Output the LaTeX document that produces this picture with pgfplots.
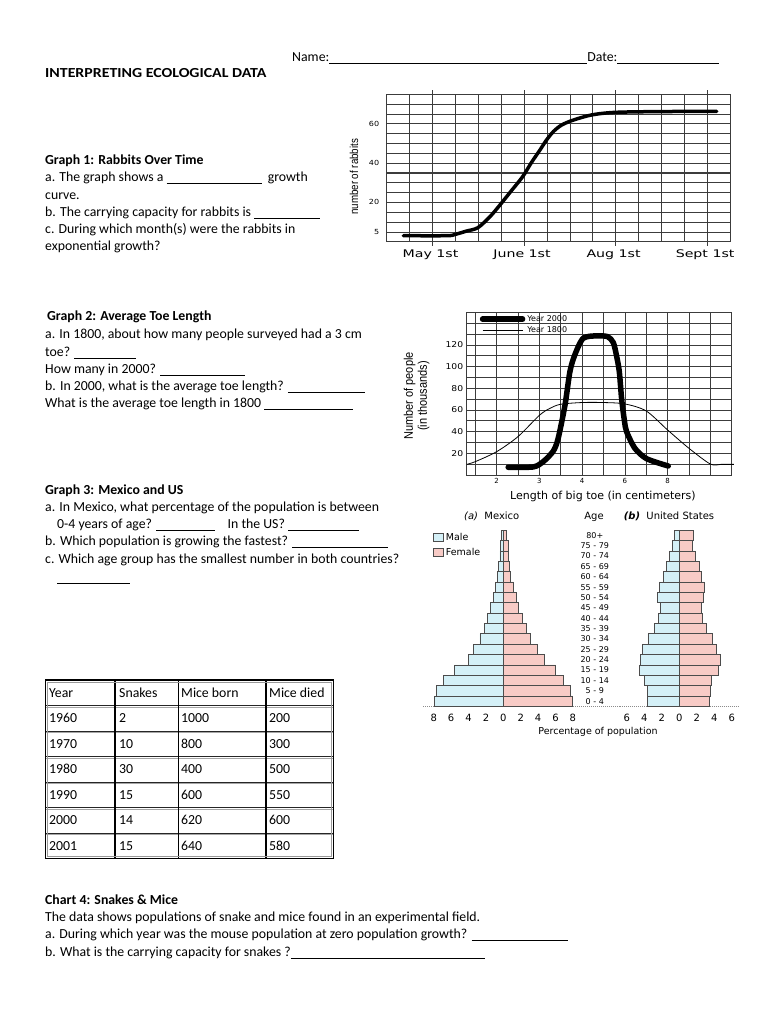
\documentclass[border=0pt]{standalone}
\usepackage{pgfplots}
\pgfplotsset{compat=1.18}
\usepackage{fontspec}
\setmainfont{Carlito}
\newfontfamily\vfont{DejaVu Sans}
\newfontfamily\afont{Liberation Sans}
\definecolor{malec}{RGB}{212,240,247}
\definecolor{femc}{RGB}{248,203,198}
\definecolor{gridc}{RGB}{60,60,60}
\newcommand{\bl}[1]{\rule[-2bp]{#1bp}{0.7bp}}
\newcommand{\tf}{\fontsize{13.8bp}{17bp}\selectfont}
\newcommand{\sx}[1]{\scalebox{1.15}[1]{#1}}
\begin{document}
\begin{tikzpicture}[x=1bp,y=1bp]
\path[fill=white,use as bounding box] (0,0) rectangle (768,1024);
\tikzset{txt/.style={anchor=base west, inner sep=0, font=\tf}}
% ---------- header ----------
\node[txt] at (292,1024-62) {Name:\bl{258}Date:\bl{102}};
\node[txt] at (45,1024-78) {\scalebox{1.15}[1]{\textbf{INTERPRETING ECOLOGICAL DATA}}};
% ---------- graph 1 text ----------
\node[txt] at (45,1024-165) {\textbf{Graph 1: Rabbits Over Time}};
\node[txt] at (45,1024-182) {a. The graph shows a \bl{95}\ \ growth};
\node[txt] at (45,1024-200) {curve.};
\node[txt] at (45,1024-217) {b. The carrying capacity for rabbits is \bl{66}};
\node[txt] at (45,1024-234) {c. During which month(s) were the rabbits in};
\node[txt] at (45,1024-251) {exponential growth?};
% ---------- graph 2 text ----------
\node[txt] at (47,1024-321) {\textbf{Graph 2: Average Toe Length}};
\node[txt] at (45,1024-339) {a. In 1800, about how many people surveyed had a 3 cm};
\node[txt] at (45,1024-357) {toe? \bl{62}};
\node[txt] at (45,1024-374) {How many in 2000? \bl{85}};
\node[txt] at (45,1024-391) {b. In 2000, what is the average toe length? \bl{77}};
\node[txt] at (45,1024-408) {What is the average toe length in 1800 \bl{89}};
% ---------- graph 3 text ----------
\node[txt] at (45,1024-495) {\textbf{Graph 3: Mexico and US}};
\node[txt] at (45,1024-512) {a. In Mexico, what percentage of the population is between};
\node[txt] at (57,1024-529) {0-4 years of age? \bl{59}\ \ \ \ In the US? \bl{71}};
\node[txt] at (45,1024-546) {b. Which population is growing the fastest? \bl{96}};
\node[txt] at (45,1024-564) {c. Which age group has the smallest number in both countries?};
\node[txt] at (57,1024-582) {\bl{73}};
% ---------- chart 4 text ----------
\node[txt] at (45,1024-905) {\textbf{Chart 4: Snakes \& Mice}};
\node[txt] at (45,1024-922) {The data shows populations of snake and mice found in an experimental field.};
\node[txt] at (45,1024-939) {a. During which year was the mouse population at zero population growth? \bl{96}};
\node[txt] at (45,1024-957) {b. What is the carrying capacity for snakes ?\bl{194}};
% ---------- table ----------
\foreach \yy in {705.5,731,756.5,782,807.5,833} {
  \draw[black!85, line width=0.6bp] (45.7,1024-\yy) -- (333.3,1024-\yy);
  \draw[black!35, line width=0.6bp] (45.7,1024-\yy-1.4) -- (333.3,1024-\yy-1.4);
}
\foreach \xx in {115,178.3,266} {
  \draw[black, line width=1.2bp] (\xx,1024-680) -- (\xx,1024-858.3);
}
\draw[black, line width=1.2bp] (45.7,1024-680) rectangle (333.3,1024-858.3);
\draw[black!40, line width=0.6bp] (47.7,1024-682) rectangle (331.3,1024-856.3);
\tikzset{tc/.style={anchor=base west, inner sep=0, font=\tf}}
\foreach \r/\a/\b/\c/\d in {0/Year/Snakes/Mice born/Mice died, 1/1960/2/1000/200, 2/1970/10/800/300, 3/1980/30/400/500, 4/1990/15/600/550, 5/2000/14/620/600, 6/2001/15/640/580} {
  \node[tc] at (49,1024-697.2-\r*25.47) {\a};
  \node[tc] at (119,1024-697.2-\r*25.47) {\b};
  \node[tc] at (181,1024-697.2-\r*25.47) {\c};
  \node[tc] at (269,1024-697.2-\r*25.47) {\d};
}
% ---------- graph 1 ----------
\begin{axis}[at={(386.7bp,782.3bp)}, anchor=south west, scale only axis,
  width=343.3bp, height=147.4bp,
  xmin=0, xmax=15, ymin=0, ymax=75,
  xtick={2,6,10,14},
  xticklabels={\scalebox{1.35}[1]{May 1st},\scalebox{1.35}[1]{June 1st},\scalebox{1.35}[1]{Aug 1st},\scalebox{1.35}[1]{Sept 1st}},
  minor xtick={0,...,15},
  ytick={5,20,40,60}, yticklabels={\sx{5},\sx{20},\sx{40},\sx{60}},
  minor ytick={0,5,...,75},
  extra y ticks={35}, extra y tick labels={},
  extra y tick style={grid=major, major grid style={gridc, line width=0.9bp}},
  grid=both,
  major grid style={gridc, line width=0.6bp},
  minor grid style={gridc, line width=0.6bp},
  axis line style={gridc, line width=0.8bp},
  tick align=outside, major tick length=4bp, minor tick length=0bp,
  xtick style={gridc, line width=0.8bp},
  ytick style={draw=none},
  xticklabel style={font=\vfont\fontsize{10.5bp}{12bp}\selectfont, xshift=-2bp, yshift=-1bp},
  yticklabel style={font=\vfont\fontsize{7bp}{8bp}\selectfont},
  ylabel={\scalebox{0.85}[1]{number of rabbits}},
  ylabel style={font=\afont\fontsize{11.5bp}{13bp}\selectfont, at={(axis description cs:0,0.44)}, anchor=center, yshift=32.7bp},
  clip=false]
\addplot[black, line width=3.5bp, smooth, tension=0.5, line cap=round] coordinates {
(0.73,3.05) (2.62,3.05) (2.99,3.7) (3.49,5.4) (3.98,7.1) (4.51,12.7) (4.95,18.7)
(5.39,25.1) (5.94,33.1) (6.33,40.4) (6.70,46.7) (6.95,51.2) (7.28,56) (7.65,59.4)
(8.16,61.9) (8.96,64.5) (9.98,65.8) (11.94,66.2) (14.42,66.3)};
\end{axis}
% ---------- graph 2 ----------
\begin{axis}[at={(466.7bp,549bp)}, anchor=south west, scale only axis,
  width=265bp, height=162.7bp,
  xmin=-0.4, xmax=12, ymin=0, ymax=150,
  xtick={1,3,5,7,9}, xticklabels={2,3,4,6,8},
  minor xtick={0,...,12},
  ytick={20,40,...,120}, yticklabels={\sx{20},\sx{40},\sx{60},\sx{80},\sx{100},\sx{120}},
  minor ytick={0,10,...,150},
  grid=both,
  major grid style={gridc, line width=0.6bp},
  minor grid style={gridc, line width=0.6bp},
  axis line style={gridc, line width=0.8bp},
  major tick length=0bp, minor tick length=0bp,
  xticklabel style={font=\vfont\fontsize{7bp}{8bp}\selectfont},
  yticklabel style={font=\vfont\fontsize{8bp}{9bp}\selectfont},
  xlabel={Length of big toe (in centimeters)},
  xlabel style={font=\vfont\fontsize{11bp}{13bp}\selectfont, at={(axis description cs:0.514,0)}, anchor=base, yshift=-25bp},
  ylabel={\scalebox{0.88}[1]{Number of people}\\\scalebox{0.88}[1]{(in thousands)}},
  ylabel style={font=\afont\fontsize{12.5bp}{14bp}\selectfont, align=center, at={(axis description cs:0,0.486)}, anchor=center, yshift=50bp},
  legend style={at={(0.045,1)}, anchor=north west, draw=none, fill=none,
    font=\vfont\fontsize{8bp}{9bp}\selectfont, row sep=0bp, inner sep=1bp},
  legend cell align=left,
  legend image code/.code={\draw[#1] (0bp,0bp) -- (40bp,0bp);},
  clip=false]
\addplot[black, line width=5.5bp, smooth, tension=0.45, line cap=round] coordinates {
(1.54,7.1) (2.71,7.4) (3.18,12.3) (3.65,22) (3.88,33.8) (4.2,64.6) (4.43,95.4)
(4.66,110.8) (5.05,126) (5.68,128.3) (6.2,127.5) (6.46,122) (6.61,110) (6.74,95.4)
(6.85,70) (6.98,50) (7.08,40) (7.47,24.6) (8.02,15) (9.03,8.3)};
\addlegendentry{Year 2000}
\addplot[black, line width=0.8bp, smooth, tension=0.5] coordinates {
(-0.4,9.8) (0,12.3) (1,21.5) (2,35.4) (3,55) (3.5,61.5) (4,65.2) (5,66.8) (6,66.8)
(7,65.5) (8,59) (9,41.5) (10,24.6) (11,10.1) (11.5,9.8) (12.1,9.8)};
\addlegendentry{Year 1800}
\end{axis}
% ---------- pyramid: Mexico ----------
\begin{axis}[at={(423.3bp,317.7bp)}, anchor=south west, scale only axis,
  width=196.5bp, height=176.1bp,
  xmin=-9.2, xmax=13.39, ymin=-0.5, ymax=16.5,
  xbar, bar width=1, bar shift=0pt,
  axis x line*=bottom, axis y line=none,
  x axis line style={black!45, densely dotted, line width=1bp, -},
  xtick={-8,-6,...,8}, xticklabels={8,6,4,2,0,2,4,6,8},
  major tick length=0bp,
  xticklabel style={font=\vfont\fontsize{10bp}{12bp}\selectfont, yshift=-4bp},
  legend style={at={(0.045,1.0)}, anchor=north west, draw=none, fill=none,
    font=\vfont\fontsize{9.5bp}{11bp}\selectfont, row sep=2bp, inner sep=1bp},
  legend cell align=left,
  legend image code/.code={\draw[#1] (0bp,-4bp) rectangle (10bp,4bp);},
  clip=false]
\addplot[fill=malec, draw=black!70, line width=0.6bp] coordinates {
(-7.9,0) (-7.7,1) (-6.9,2) (-5.6,3) (-4.0,4) (-3.4,5) (-2.7,6) (-2.2,7) (-1.85,8)
(-1.45,9) (-1.15,10) (-0.95,11) (-0.7,12) (-0.6,13) (-0.4,14) (-0.3,15) (-0.2,16)};
\addlegendentry{Male}
\addplot[fill=femc, draw=black!70, line width=0.6bp] coordinates {
(7.96,0) (7.65,1) (6.9,2) (6.0,3) (4.7,4) (3.85,5) (3.15,6) (2.6,7) (2.2,8)
(1.7,9) (1.5,10) (1.15,11) (0.75,12) (0.65,13) (0.6,14) (0.55,15) (0.3,16)};
\addlegendentry{Female}
\end{axis}
% ---------- pyramid: US ----------
\begin{axis}[at={(619.8bp,317.7bp)}, anchor=south west, scale only axis,
  width=118.1bp, height=176.1bp,
  xmin=-6.8, xmax=6.7, ymin=-0.5, ymax=16.5,
  xbar, bar width=1, bar shift=0pt,
  axis x line*=bottom, axis y line*=left,
  x axis line style={black!45, densely dotted, line width=1bp, -},
  y axis line style={draw=none},
  xtick={-6,-4,...,6}, xticklabels={6,4,2,0,2,4,6},
  ytick={0,...,16},
  yticklabels={0 - 4,5 - 9,10 - 14,15 - 19,20 - 24,25 - 29,30 - 34,35 - 39,40 - 44,45 - 49,50 - 54,55 - 59,60 - 64,65 - 69,70 - 74,75 - 79,80+},
  major tick length=0bp,
  ytick style={draw=none},
  xticklabel style={font=\vfont\fontsize{10bp}{12bp}\selectfont, yshift=-4bp},
  yticklabel style={font=\vfont\fontsize{8bp}{9bp}\selectfont, anchor=center, xshift=-25bp},
  clip=false]
\addplot[fill=malec, draw=black!70, line width=0.6bp] coordinates {
(-3.65,0) (-3.65,1) (-4.0,2) (-4.6,3) (-4.45,4) (-4.2,5) (-3.6,6) (-2.85,7) (-2.4,8)
(-2.2,9) (-2.5,10) (-2.3,11) (-1.8,12) (-1.5,13) (-1.15,14) (-0.75,15) (-0.55,16)};
\addplot[fill=femc, draw=black!70, line width=0.6bp] coordinates {
(3.4,0) (3.5,1) (3.7,2) (4.5,3) (4.65,4) (4.2,5) (3.8,6) (3.1,7) (2.65,8)
(2.55,9) (2.7,10) (2.85,11) (2.55,12) (2.3,13) (1.8,14) (1.5,15) (1.65,16)};
\end{axis}
\node[anchor=base, font=\vfont\fontsize{10bp}{12bp}\selectfont] at (491.7,1024-520) {\textit{(a)}\ \ Mexico};
\node[anchor=base, font=\vfont\fontsize{10bp}{12bp}\selectfont] at (594,1024-520) {Age};
\node[anchor=base, font=\vfont\fontsize{10bp}{12bp}\selectfont] at (669,1024-520) {\textbf{\textit{(b)}}\ \ United States};
\node[anchor=base, font=\vfont\fontsize{9.5bp}{11bp}\selectfont] at (598,1024-735) {Percentage of population};
\end{tikzpicture}
\end{document}
